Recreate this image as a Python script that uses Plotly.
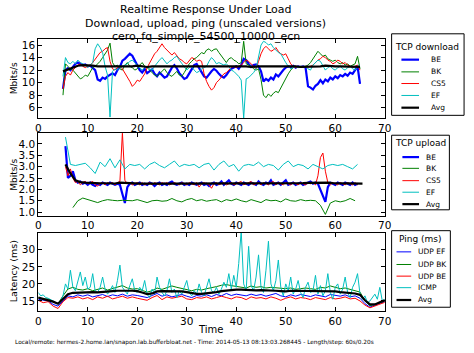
import plotly.graph_objects as go

W, H = 474, 353

# ---------------- data ----------------
# TCP download (Mbits/s), sampled every DL_STEP s starting at DL_START
DL_START, DL_STEP = 5.0, 0.5
dl_be = [9.0, 12.0, 12.3, 12.0, 12.5, 13.0, 13.2, 13.0, 12.8, 12.9, 12.6, 12.7, 12.4, 12.0, 10.5, 10.3, 10.8, 10.6, 11.0, 11.3,
         11.5, 11.2, 12.0, 12.5, 13.5, 13.8, 14.2, 14.6, 14.3, 13.5, 12.8, 12.0, 11.6, 12.2, 11.5, 11.8, 12.1, 11.4, 11.0, 11.6,
         11.2, 10.8, 11.0, 11.8, 12.4, 12.8, 12.3, 11.5, 11.0, 10.6, 10.8, 11.5, 12.2, 12.8, 13.0, 12.4, 11.8, 11.0, 10.8, 11.4,
         11.8, 12.2, 11.9, 11.4, 11.0, 10.8, 11.2, 11.8, 12.2, 12.4, 12.6, 12.2, 12.8, 13.8, 13.6, 13.0, 12.5, 12.8, 12.9, 12.6,
         11.8, 10.2, 10.6, 10.3, 10.8, 10.5, 11.3, 11.0, 11.6, 12.0, 12.4, 12.6, 12.5, 12.7, 12.4, 12.6, 12.5, 12.6, 12.4, 9.4,
         9.2, 8.9, 9.5, 9.8, 10.4, 9.9, 10.5, 10.2, 10.8, 10.5, 11.0, 10.7, 11.2, 11.0, 11.4, 11.1, 11.6, 11.4, 12.0, 12.6, 9.8]
dl_bk = [8.0, 13.0, 12.6, 12.2, 12.0, 11.5, 11.0, 10.6, 10.8, 11.2, 11.0, 11.6, 12.4, 12.6, 13.0, 13.4, 14.0, 14.6, 15.2, 16.3,
         13.2, 12.6, 12.8, 12.2, 12.0, 12.8, 13.2, 12.6, 12.4, 12.0, 12.2, 12.8, 13.2, 12.6, 12.4, 12.0, 11.6, 11.2, 11.0, 11.4,
         11.8, 12.2, 11.6, 11.2, 11.0, 11.4, 11.8, 11.2, 11.0, 11.6, 12.4, 13.0, 13.4, 13.8, 14.0, 14.4, 14.8, 14.6, 15.2, 15.4,
         15.0, 15.3, 15.4, 14.8, 14.2, 13.6, 13.2, 13.8, 14.0, 13.6, 13.4, 13.0, 13.2, 16.6, 13.0, 12.8, 12.6, 12.2, 12.0, 12.2,
         10.5, 8.0, 7.6, 8.2, 7.8, 8.3, 8.6, 8.4, 9.2, 9.8, 10.6, 11.4, 12.0, 12.4, 12.6, 12.4, 12.6, 12.5, 12.6, 12.8,
         13.2, 13.8, 14.2, 15.0, 14.6, 14.2, 14.4, 13.8, 13.6, 13.4, 13.6, 13.2, 13.0, 13.2, 12.8, 13.0, 12.6, 12.8, 13.0, 14.2, 12.2]
dl_cs5 = [9.0, 11.0, 11.6, 11.2, 12.0, 12.4, 12.8, 13.0, 12.6, 12.4, 12.6, 12.8, 13.2, 13.8, 14.4, 14.8, 15.0, 15.4, 15.6, 13.4,
          12.2, 12.0, 12.4, 12.6, 12.2, 11.6, 11.0, 10.2, 9.4, 9.8, 10.4, 10.2, 10.8, 11.4, 12.4, 13.2, 14.0, 14.6, 15.0, 15.6,
          16.2, 15.6, 15.2, 14.8, 14.4, 14.8, 14.2, 13.8, 13.6, 13.2, 13.0, 13.6, 14.0, 13.8, 13.4, 13.6, 13.4, 11.4, 10.2, 9.4,
          8.8, 9.2, 10.0, 10.4, 11.0, 11.4, 11.6, 12.0, 12.4, 12.6, 12.4, 12.6, 12.8, 13.2, 13.6, 13.4, 13.0, 12.6, 12.2, 13.4,
          14.6, 15.4, 15.8, 15.4, 15.0, 15.2, 15.6, 15.0, 14.6, 14.4, 14.6, 13.8, 13.0, 12.6, 12.4, 12.6, 12.5, 12.4, 12.6, 12.5,
          12.6, 12.8, 13.2, 13.6, 13.8, 14.2, 14.0, 13.6, 13.4, 13.0, 13.2, 13.6, 13.4, 13.0, 13.2, 12.8, 12.6, 12.4, 12.6, 12.8, 12.0]
dl_ef = [11.0, 14.0, 13.2, 13.0, 13.4, 13.0, 13.6, 13.2, 13.0, 12.8, 12.4, 12.8, 13.2, 15.4, 16.2, 15.6, 14.8, 12.6, 11.2, 4.5,
         11.8, 12.2, 12.0, 12.4, 12.6, 12.8, 13.0, 13.4, 13.6, 13.2, 12.8, 12.4, 12.0, 12.4, 12.6, 12.2, 12.0, 12.6, 13.2, 13.6,
         14.0, 13.4, 13.0, 13.4, 13.6, 14.0, 14.2, 13.6, 13.0, 12.4, 12.0, 12.4, 12.6, 12.0, 11.6, 11.8, 12.2, 12.4, 12.6, 13.4,
         14.0, 13.6, 13.0, 13.2, 13.0, 12.8, 13.0, 12.6, 12.0, 11.8, 11.4, 11.0, 10.4, 4.3, 10.6, 10.8, 11.2, 11.6, 12.2, 14.0,
         16.0, 16.6, 16.4, 16.0, 16.2, 15.6, 15.2, 14.8, 14.6, 13.8, 13.2, 12.6, 12.2, 12.4, 12.6, 12.4, 12.6, 12.4, 12.6, 12.2,
         12.0, 12.8, 13.2, 13.6, 13.4, 12.6, 12.0, 12.4, 12.6, 12.2, 12.0, 12.4, 12.6, 12.2, 12.0, 12.4, 12.6, 12.2, 12.0, 12.6, 12.8]
DL_AVG_START, DL_AVG_STEP = 5.0, 1.0
dl_avg = [11.8, 12.1, 12.4, 12.7, 12.8, 12.8, 12.7, 12.6, 12.6, 12.5, 12.5, 12.6, 12.6, 12.6, 12.6, 12.7, 12.6, 12.5, 12.6, 12.6,
          12.6, 12.7, 12.7, 12.6, 12.6, 12.6, 12.7, 12.6, 12.6, 12.6, 12.7, 12.7, 12.6, 12.6, 12.6, 12.6, 12.7, 12.6, 12.5, 12.6,
          12.6, 12.6, 12.6, 12.7, 12.7, 12.6, 12.6, 12.6, 12.5, 12.5, 12.6, 12.6, 12.6, 12.7, 12.6, 12.6, 12.6, 12.6, 12.5, 12.5, 12.5]

# TCP upload (Mbits/s)
UL_START, UL_STEP = 5.5, 0.5
ul_be = [3.9, 2.5, 2.6, 2.8, 2.4, 2.3, 2.35, 2.25, 2.3, 2.2, 2.3, 2.2, 2.15, 2.25, 2.2, 2.3, 2.25, 2.2, 2.3, 2.25,
         2.2, 2.25, 2.2, 1.8, 1.4, 2.1, 2.25, 2.3, 2.2, 2.25, 2.3, 2.2, 2.25, 2.2, 2.3, 2.25, 2.15, 2.25, 2.3, 2.2,
         2.25, 2.2, 2.3, 2.35, 2.25, 2.2, 2.25, 2.3, 2.2, 2.25, 2.2, 2.3, 2.25, 2.2, 2.25, 2.3, 2.2, 2.25, 2.15, 2.25,
         2.3, 2.2, 2.25, 2.35, 2.2, 2.3, 2.4, 2.25, 2.2, 2.3, 2.25, 2.2, 2.3, 2.25, 2.2, 2.3, 2.25, 2.2, 2.35, 2.25,
         2.2, 2.3, 2.25, 2.4, 2.2, 2.25, 2.3, 2.2, 2.3, 2.4, 2.2, 2.25, 2.3, 2.2, 2.25, 2.3, 2.2, 2.25, 2.3, 2.35,
         2.25, 2.3, 2.25, 2.0, 1.7, 1.45, 2.1, 2.3, 2.25, 2.2, 2.3, 2.25, 2.2, 2.3, 2.25, 2.2, 2.3, 2.2, 2.25]
ul_cs5 = [3.0, 2.6, 2.9, 2.5, 2.3, 2.35, 2.2, 2.3, 2.35, 2.25, 2.3, 2.35, 2.2, 2.15, 2.25, 2.3, 2.2, 2.3, 2.25, 2.3,
          2.2, 2.3, 2.35, 4.5, 2.4, 2.25, 2.3, 2.2, 2.25, 2.3, 2.2, 2.3, 2.2, 2.25, 2.3, 2.2, 2.3, 2.25, 2.2, 2.3,
          2.25, 2.3, 2.2, 2.25, 2.3, 2.25, 2.2, 2.3, 2.25, 2.2, 2.3, 2.25, 2.2, 2.3, 2.1, 2.25, 2.3, 2.25, 2.2, 2.05,
          2.25, 2.3, 2.2, 2.25, 2.3, 2.2, 2.25, 2.3, 2.2, 2.25, 2.3, 2.35, 2.2, 2.25, 2.3, 2.35, 2.2, 2.25, 2.3, 2.2,
          2.3, 2.25, 2.2, 2.3, 2.35, 2.2, 2.3, 2.25, 2.2, 2.3, 2.25, 2.2, 2.3, 2.25, 2.2, 2.3, 2.25, 2.2, 2.3, 2.25,
          2.3, 2.2, 2.6, 3.4, 3.6, 2.8, 2.3, 2.2, 2.3, 2.25, 2.2, 2.3, 2.25, 2.2, 2.3, 2.25, 2.2, 2.3, 2.2]
UL_BK_START, UL_BK_STEP = 7.0, 1.0
ul_bk = [1.2, 1.5, 1.62, 1.55, 1.5, 1.42, 1.5, 1.55, 1.52, 1.5, 1.52, 1.5, 1.5, 1.55, 1.5, 1.42, 1.5, 1.52, 1.48, 1.5,
         1.6, 1.5, 1.45, 1.55, 1.6, 1.5, 1.55, 1.48, 1.52, 1.55, 1.45, 1.55, 1.5, 1.58, 1.5, 1.45, 1.55, 1.5, 1.42, 1.55,
         1.5, 1.52, 1.45, 1.58, 1.5, 1.48, 1.55, 1.5, 1.52, 1.5, 1.3, 0.9, 1.4, 1.5, 1.45, 1.5, 1.6, 1.5]
UL_EF_START, UL_EF_STEP = 5.5, 1.0
ul_ef = [4.3, 3.1, 3.05, 3.1, 3.15, 2.95, 2.7, 3.2, 3.0, 3.35, 2.95, 3.3, 2.9, 3.1, 3.05, 3.1, 2.9, 3.1, 3.2, 3.05,
         2.95, 3.1, 3.25, 3.0, 3.1, 3.05, 3.1, 2.95, 3.1, 3.15, 2.85, 3.1, 3.25, 3.0, 3.1, 2.8, 3.05, 3.1, 3.05, 3.2,
         3.0, 3.1, 3.05, 2.85, 3.1, 3.25, 3.0, 3.1, 3.05, 2.9, 3.1, 3.0, 2.9, 3.05, 3.1, 3.05, 3.1, 3.0, 2.9, 3.1]
UL_AVG_START, UL_AVG_STEP = 5.5, 1.0
ul_avg = [3.1, 2.7, 2.4, 2.32, 2.3, 2.28, 2.28, 2.27, 2.27, 2.26, 2.26, 2.3, 2.28, 2.26, 2.26, 2.25, 2.25, 2.26, 2.25, 2.25,
          2.26, 2.25, 2.25, 2.26, 2.25, 2.25, 2.25, 2.26, 2.25, 2.25, 2.25, 2.26, 2.26, 2.25, 2.25, 2.26, 2.25, 2.25, 2.26, 2.25,
          2.25, 2.26, 2.25, 2.25, 2.26, 2.26, 2.26, 2.27, 2.28, 2.29, 2.3, 2.31, 2.32, 2.3, 2.28, 2.27, 2.26, 2.26, 2.25, 2.25, 2.25]

# Ping (ms)
PING_START, PING_STEP = 0.0, 1.0
ping_ef = [15.5, 15.2, 15.0, 14.0, 13.5, 15.0, 16.5, 16.2, 16.8, 16.4, 16.8, 16.2, 16.6, 16.9, 16.3, 16.8, 16.5, 17.0, 16.4, 16.8,
           16.6, 16.2, 16.0, 16.6, 17.2, 16.4, 16.8, 16.2, 16.6, 16.9, 16.4, 16.0, 16.6, 16.4, 16.8, 16.3, 16.9, 16.5, 17.2, 16.6,
           17.0, 16.8, 16.5, 17.0, 16.6, 16.9, 16.4, 16.8, 17.2, 16.5, 16.2, 16.8, 16.4, 16.9, 16.6, 16.3, 16.8, 16.5, 16.2, 16.9,
           16.6, 16.4, 16.8, 16.2, 16.5, 15.8, 14.2, 13.2, 13.8, 14.4, 14.8]
ping_bk = [16.0, 15.5, 15.6, 14.8, 14.2, 16.5, 18.5, 19.0, 18.4, 18.2, 18.6, 18.0, 18.3, 18.8, 18.2, 18.6, 19.0, 19.5, 18.8, 18.5,
           18.6, 18.2, 17.6, 18.0, 18.8, 18.4, 19.0, 19.4, 19.0, 18.6, 18.2, 18.0, 18.4, 18.2, 18.6, 18.8, 19.2, 19.6, 19.8, 19.5,
           19.2, 19.0, 18.8, 19.4, 19.0, 19.2, 18.8, 19.0, 18.8, 18.6, 18.6, 18.8, 18.4, 18.6, 18.8, 18.6, 18.4, 19.0, 18.8, 19.4,
           19.0, 18.6, 18.8, 18.4, 18.2, 17.6, 15.0, 13.6, 14.0, 14.6, 15.0]
ping_be = [15.2, 14.5, 14.8, 13.5, 12.8, 14.8, 16.0, 15.8, 16.2, 15.6, 16.0, 15.4, 16.2, 15.8, 16.4, 15.6, 16.0, 16.4, 15.8, 16.2,
           15.8, 15.5, 15.2, 16.0, 16.6, 15.4, 16.2, 15.8, 16.0, 16.4, 15.6, 15.4, 16.0, 15.8, 16.2, 15.6, 16.0, 16.4, 16.0, 15.6,
           16.2, 16.0, 15.4, 16.2, 15.8, 16.0, 15.6, 16.2, 15.8, 15.2, 15.8, 16.2, 15.6, 16.0, 15.8, 15.4, 16.0, 15.8, 15.4, 16.0,
           15.6, 15.8, 16.2, 15.6, 15.8, 15.0, 13.8, 13.0, 13.5, 14.2, 14.6]
ICMP_START, ICMP_STEP = 0.0, 0.5
ping_icmp = [17.5, 16.5, 16.8, 16.0, 15.8, 15.5, 15.0, 14.5, 14.2, 15.0, 16.5, 20.0, 18.5, 24.0, 19.0, 18.0, 20.5, 23.5, 19.5, 22.0,
             18.5, 19.0, 23.0, 18.0, 17.5, 19.0, 22.0, 18.5, 17.0, 18.0, 19.5, 17.5, 21.0, 25.5, 19.0, 18.0, 17.0, 19.5, 21.5, 18.0,
             17.5, 19.0, 18.0, 21.0, 17.0, 16.0, 18.5, 17.0, 22.0, 19.0, 17.5, 16.5, 18.0, 21.5, 17.5, 18.5, 16.0, 18.0, 17.0, 19.0,
             21.0, 17.5, 16.5, 18.0, 17.0, 20.0, 17.5, 16.5, 19.0, 21.5, 18.0, 17.5, 19.0, 17.0, 18.5, 20.5, 19.0, 23.0, 18.5, 22.5,
             19.0, 26.0, 35.5, 20.0, 18.0, 31.0, 19.5, 18.0, 22.0, 28.5, 19.0, 17.5, 24.0, 32.5, 20.0, 18.0, 21.0, 27.0, 19.0, 16.5,
             20.0, 18.0, 22.0, 17.0, 18.5, 21.0, 17.5, 16.0, 19.0, 20.5, 17.5, 18.0, 22.5, 17.0, 19.5, 16.5, 18.0, 23.0, 17.5, 15.5,
             19.0, 20.0, 17.0, 18.5, 22.0, 17.5, 16.0, 19.0, 20.5, 23.0, 17.0, 15.5, 16.5, 14.5, 15.0, 16.0, 17.0, 15.5, 19.0, 15.0, 15.5]
ping_avg = [16.0, 15.6, 15.3, 14.8, 14.2, 15.5, 17.0, 17.4, 17.5, 17.5, 17.6, 17.6, 17.5, 17.7, 17.8, 17.9, 18.0, 18.1, 18.0, 18.0,
            17.9, 17.5, 17.0, 17.2, 17.8, 17.9, 17.9, 18.0, 17.9, 17.8, 17.6, 17.3, 17.1, 17.1, 17.2, 17.3, 17.6, 17.9, 18.1, 18.2,
            18.3, 18.3, 18.2, 18.2, 18.1, 18.2, 18.2, 18.1, 18.0, 17.9, 17.8, 18.0, 18.0, 18.0, 18.0, 17.9, 17.8, 17.8, 17.8, 17.9,
            17.8, 17.6, 17.5, 17.4, 17.2, 16.8, 15.2, 14.0, 14.0, 14.6, 15.2]

x_ticks = [0, 10, 20, 30, 40, 50, 60, 70]
dl_ticks = [6, 8, 10, 12, 14, 16]
ul_ticks = [1.0, 1.5, 2.0, 2.5, 3.0, 3.5, 4.0]
ping_ticks = [15, 20, 25, 30]

BLUE, GREEN, RED, CYAN, BLACK = "#0000ff", "#008000", "#ff0000", "#00bfbf", "#000000"
FONT = "DejaVu Sans"


def times(start, step, vals):
    return [start + step * i for i in range(len(vals))]


fig = go.Figure()

panels = [
    ("x", "y", [
        ("BE", DL_START, DL_STEP, dl_be, BLUE, 2.2),
        ("BK", DL_START, DL_STEP, dl_bk, GREEN, 1),
        ("CS5", DL_START, DL_STEP, dl_cs5, RED, 1),
        ("EF", DL_START, DL_STEP, dl_ef, CYAN, 1),
        ("Avg", DL_AVG_START, DL_AVG_STEP, dl_avg, BLACK, 2.2),
    ]),
    ("x2", "y2", [
        ("BE", UL_START, UL_STEP, ul_be, BLUE, 2.2),
        ("BK", UL_BK_START, UL_BK_STEP, ul_bk, GREEN, 1),
        ("CS5", UL_START, UL_STEP, ul_cs5, RED, 1),
        ("EF", UL_EF_START, UL_EF_STEP, ul_ef, CYAN, 1),
        ("Avg", UL_AVG_START, UL_AVG_STEP, ul_avg, BLACK, 2.2),
    ]),
    ("x3", "y3", [
        ("UDP EF", PING_START, PING_STEP, ping_ef, BLUE, 1),
        ("UDP BK", PING_START, PING_STEP, ping_bk, GREEN, 1),
        ("UDP BE", PING_START, PING_STEP, ping_be, RED, 1),
        ("ICMP", ICMP_START, ICMP_STEP, ping_icmp, CYAN, 1),
        ("Avg", PING_START, PING_STEP, ping_avg, BLACK, 2.2),
    ]),
]

for xa, ya, series in panels:
    for name, st, sp, vals, col, lw in series:
        fig.add_trace(go.Scatter(x=times(st, sp, vals), y=vals, mode="lines", name=name,
                                 line=dict(color=col, width=lw), xaxis=xa, yaxis=ya,
                                 showlegend=False))


def px(x):
    return x / W


def py(y):
    return 1 - y / H


xdom = [px(36), px(390)]
axis_common = dict(showline=True, linecolor="black", linewidth=1, mirror="ticks", ticks="inside",
                   ticklen=4, tickcolor="black", showgrid=False, zeroline=False,
                   tickfont=dict(family=FONT, size=10.5, color="black"))

fig.update_layout(
    width=W, height=H, margin=dict(l=0, r=0, t=0, b=0),
    paper_bgcolor="white", plot_bgcolor="white",
    font=dict(family=FONT, color="black"),
    xaxis=dict(domain=xdom, anchor="y", range=[0, 70], tickvals=x_ticks, **axis_common),
    yaxis=dict(domain=[py(119), py(39)], anchor="x", range=[4.3, 17], tickvals=dl_ticks, **axis_common),
    xaxis2=dict(domain=xdom, anchor="y2", range=[0, 70], tickvals=x_ticks, **axis_common),
    yaxis2=dict(domain=[py(217), py(134)], anchor="x2", range=[0.84, 4.47], tickvals=ul_ticks,
                tickformat=".1f", **axis_common),
    xaxis3=dict(domain=xdom, anchor="y3", range=[0, 70], tickvals=x_ticks, **axis_common),
    yaxis3=dict(domain=[py(313), py(234)], anchor="x3", range=[12, 35], tickvals=ping_ticks, **axis_common),
)

ann = []
shapes = []


def text(x, y, s, size, anchor="center", angle=0):
    ann.append(dict(x=px(x), y=py(y), xref="paper", yref="paper", text=s, showarrow=False,
                    xanchor=anchor, yanchor="middle", textangle=angle,
                    font=dict(family=FONT, size=size, color="black")))


# titles
text(207, 10, "Realtime Response Under Load", 11)
text(207, 23.5, "Download, upload, ping (unscaled versions)", 11)
text(207, 37, "cero_fq_simple_54500_10000_ecn", 11)
text(11, 79, "Mbits/s", 9, angle=-90)
text(11, 176, "Mbits/s", 9, angle=-90)
text(11, 273, "Latency (ms)", 9.5, angle=-90)
text(212, 331, "Time", 10)
text(10, 344, "Local/remote: hermes-2.home.lan/snapon.lab.bufferbloat.net - Time: 2014-05-13 08:13:03.268445 - Length/step: 60s/0.20s", 5.8, anchor="left")


def legend(box, title, title_y, title_x, rows, line_x0, line_x1, label_x):
    x0, y0, x1, y1 = box
    shapes.append(dict(type="rect", xref="paper", yref="paper", x0=px(x0), y0=py(y1), x1=px(x1), y1=py(y0),
                       line=dict(color="black", width=1), fillcolor="white", layer="above"))
    text(title_x, title_y, title, 9)
    for (name, col, lw), yy in rows:
        shapes.append(dict(type="line", xref="paper", yref="paper", x0=px(line_x0), x1=px(line_x1),
                           y0=py(yy), y1=py(yy), line=dict(color=col, width=lw), layer="above"))
        text(label_x, yy, name, 7.5, anchor="left")


for (xa, ya, series), box, title, ty, tx, ys, lx0, lx1, lbx in [
    (panels[0], (397, 34, 471, 116), "TCP download", 47, 433.5, [60, 72.3, 84, 96, 108.3], 407, 425, 435),
    (panels[1], (397, 136, 456, 211), "TCP upload", 144, 426.5, [158, 169.3, 181.7, 193.3, 205.3], 408, 425, 430),
    (panels[2], (397, 232, 457, 309), "Ping (ms)", 240, 427, [253.3, 266, 277.7, 289.3, 301.7], 402, 417, 422),
]:
    rows = [((s[0], s[4], s[5]), yy) for s, yy in zip(series, ys)]
    legend(box, title, ty, tx, rows, lx0, lx1, lbx)

fig.update_layout(annotations=ann, shapes=shapes)
fig.write_html("out.html", config={"displayModeBar": False})
